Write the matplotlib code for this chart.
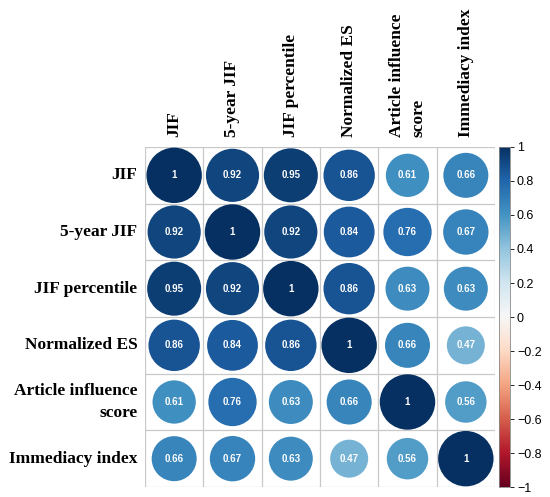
import numpy as np
import matplotlib
matplotlib.use("Agg")
import matplotlib.pyplot as plt
from matplotlib.colors import Normalize

labels = ["JIF", "5-year JIF", "JIF percentile", "Normalized ES",
          "Article influence\nscore", "Immediacy index"]
row_labels = ["JIF", "5-year JIF", "JIF percentile", "Normalized ES",
              "Article influence\nscore", "Immediacy index"]

corr = np.array([
    [1.00, 0.92, 0.95, 0.86, 0.61, 0.66],
    [0.92, 1.00, 0.92, 0.84, 0.76, 0.67],
    [0.95, 0.92, 1.00, 0.86, 0.63, 0.63],
    [0.86, 0.84, 0.86, 1.00, 0.66, 0.47],
    [0.61, 0.76, 0.63, 0.66, 1.00, 0.56],
    [0.66, 0.67, 0.63, 0.47, 0.56, 1.00],
])
cbar_ticks = [-1, -0.8, -0.6, -0.4, -0.2, 0, 0.2, 0.4, 0.6, 0.8, 1]

W, H = 550, 497
fig = plt.figure(figsize=(W / 100, H / 100), dpi=100)

x0, x1, y0, y1 = 145, 495, 147, 487
ax = fig.add_axes([x0 / W, 1 - y1 / H, (x1 - x0) / W, (y1 - y0) / H])
n = len(labels)
ax.set_xlim(0, n)
ax.set_ylim(n, 0)

cmap = plt.get_cmap("RdBu")
norm = Normalize(-1, 1)

cell_px = (x1 - x0) / n
ii, jj = np.meshgrid(np.arange(n), np.arange(n), indexing="ij")
vals = corr.ravel()
diam_pt = 0.95 * cell_px * np.sqrt(np.abs(vals)) * 72 / 100
ax.scatter(jj.ravel() + 0.5, ii.ravel() + 0.5, s=diam_pt ** 2,
           c=cmap(norm(vals)), edgecolors="none", zorder=3)

for i in range(n):
    for j in range(n):
        v = corr[i, j]
        txt = "1" if v == 1 else f"{v:.2f}".rstrip("0")
        ax.text(j + 0.5, i + 0.5, txt, ha="center", va="center",
                color="white", fontsize=7, fontweight="bold",
                family="Liberation Sans", zorder=4)

for k in range(n + 1):
    ax.axhline(k, color="#c8c8c8", lw=0.9, zorder=1)
    ax.axvline(k, color="#c8c8c8", lw=0.9, zorder=1)
for s in ax.spines.values():
    s.set_visible(False)
ax.set_xticks([])
ax.set_yticks([])

serif = dict(family="Liberation Serif", fontweight="bold", fontsize=12.5)
for i, lab in enumerate(row_labels):
    ax.text(-0.13, i + 0.5, lab, ha="right", va="center",
            multialignment="right", linespacing=1.45, **serif)
for j, lab in enumerate(labels):
    ax.text(j + 0.5, -0.17, lab, ha="center", va="bottom", rotation=90,
            multialignment="left", linespacing=1.45, **serif)

# colorbar
cax = fig.add_axes([499 / W, 1 - y1 / H, 11 / W, (y1 - y0) / H])
grad = np.linspace(-1, 1, 256).reshape(-1, 1)
cax.imshow(grad, aspect="auto", cmap=cmap, norm=norm, origin="lower",
           extent=[0, 1, -1, 1])
cax.set_xticks([])
cax.yaxis.tick_right()
cax.set_yticks(cbar_ticks)
cax.set_yticklabels([("\u2212" if t < 0 else "") + f"{abs(t):g}" for t in cbar_ticks],
                    family="Liberation Sans", fontsize=9)
cax.tick_params(axis="y", length=3, width=0.6, pad=2)
for s in cax.spines.values():
    s.set_linewidth(0.6)
    s.set_color("#888888")

fig.savefig("out.png", dpi=100)
